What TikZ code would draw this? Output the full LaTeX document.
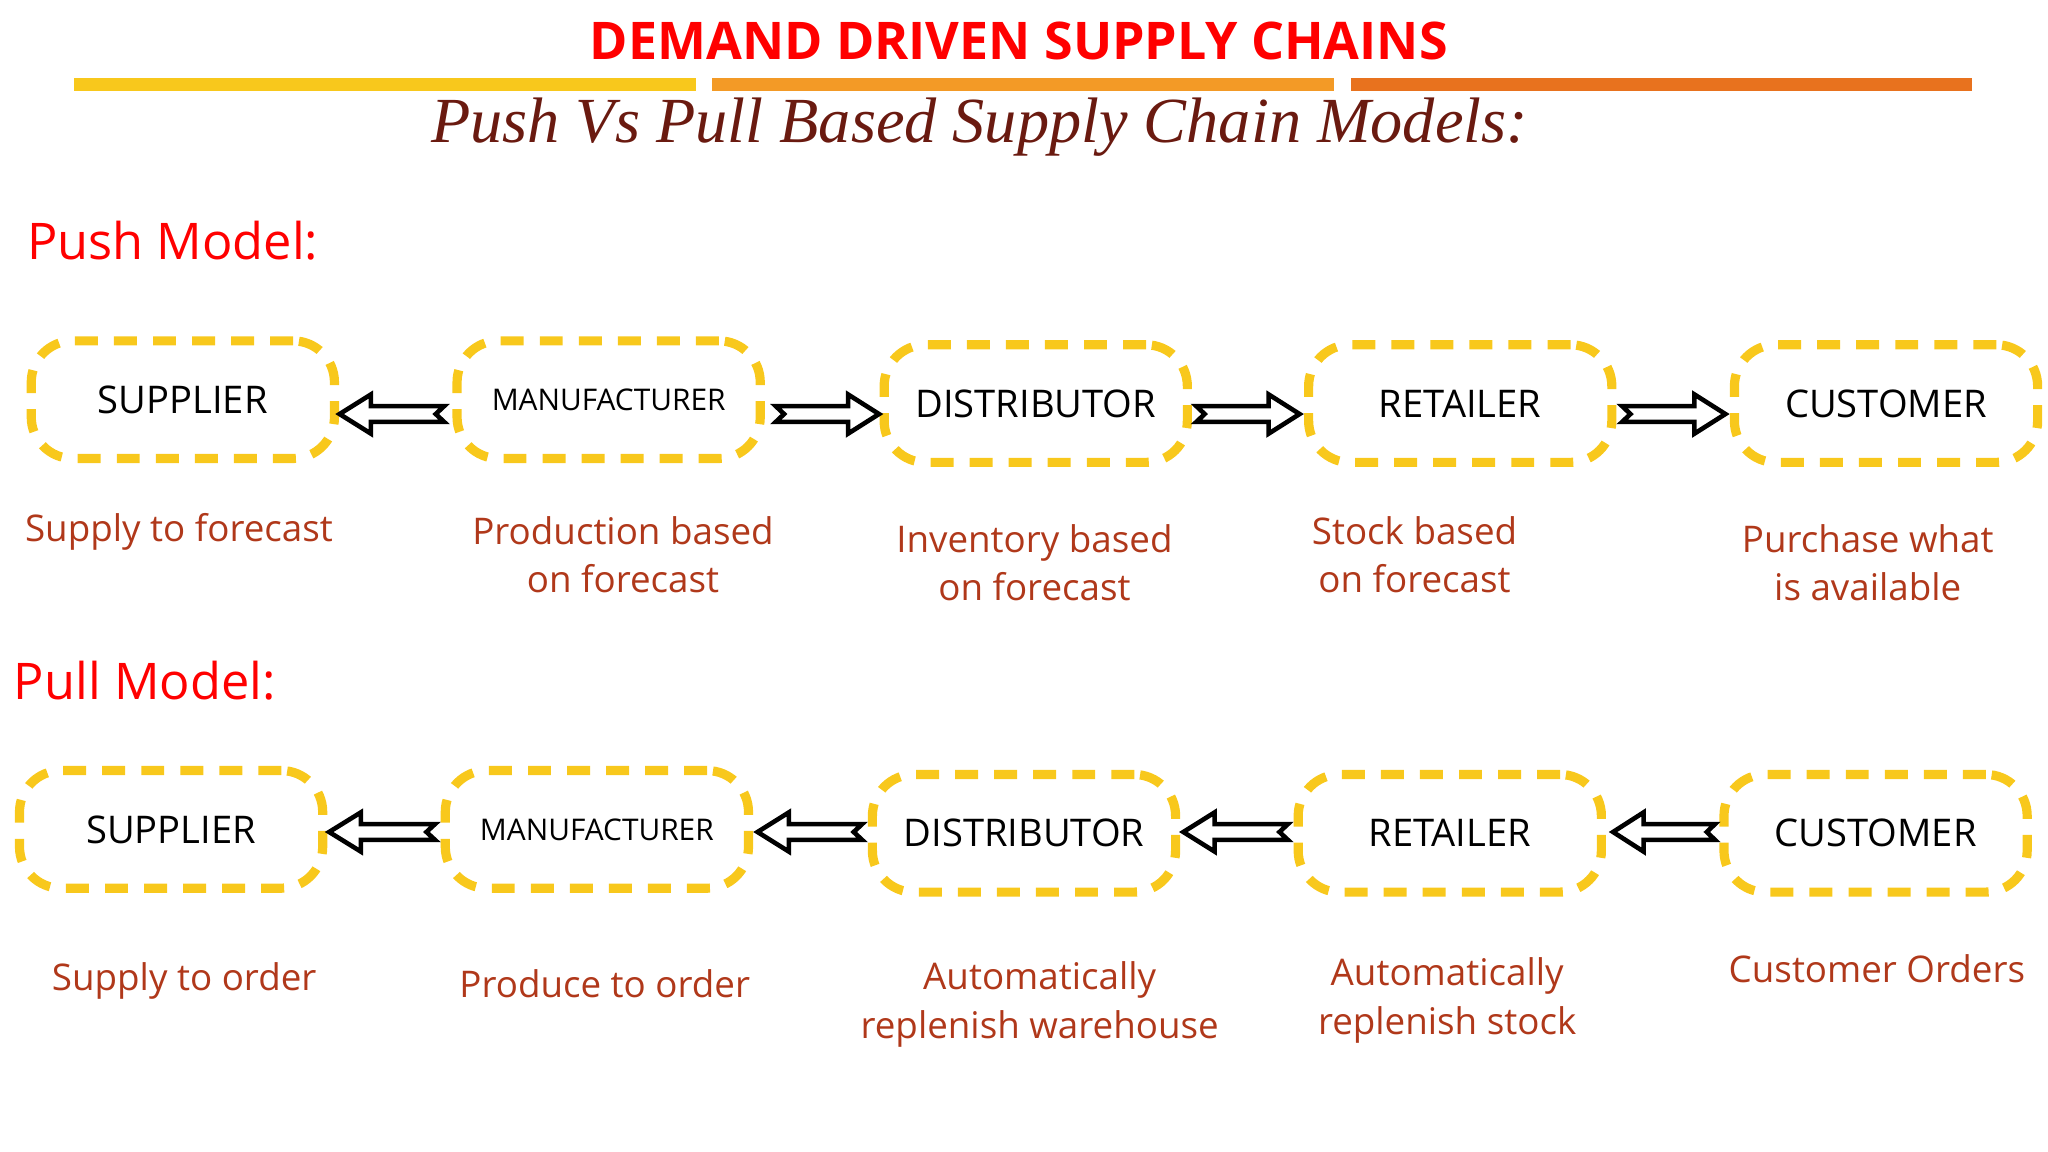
\documentclass[tikz,border=0pt]{standalone}
\usepackage{fontspec}
\setmainfont{Open Sans}
\newfontfamily\titlefont{Liberation Serif}
\usetikzlibrary{positioning,calc}
\definecolor{boxyellow}{HTML}{F8C81C}
\definecolor{desccol}{HTML}{B0381A}
\definecolor{titlebrown}{HTML}{6A1A10}
\definecolor{barA}{HTML}{F8C81C}
\definecolor{barB}{HTML}{F39A26}
\definecolor{barC}{HTML}{E8721E}
\tikzset{
  stage/.style={draw=boxyellow,line width=2pt,dash pattern=on 5pt off 3.5pt,rounded corners=9pt,
    minimum width=2.32cm,minimum height=0.9cm,inner sep=0pt,font=\fontsize{8.3}{10}\selectfont},
  small stage/.style={stage,font=\fontsize{6.5}{8}\selectfont},
  desc/.style={text=desccol,align=center,font=\fontsize{8}{10.5}\selectfont},
  heading/.style={text=red,anchor=west,inner sep=0pt,font=\fontsize{11}{13}\selectfont},
}
% hollow arrow with notched tail, from #1 to #2 (horizontal)
\newcommand*{\flowarrow}[2]{%
  \path (#1) coordinate (fa-s) (#2) coordinate (fa-e);
  \draw[line width=1pt,fill=white,line join=miter]
    let \p1=(fa-s), \p2=(fa-e), \n1={\x2-\x1}, \n2={0.3*\n1} in
    (\x1,\y1+0.06cm) -- (\x2-\n2,\y1+0.06cm) -- (\x2-\n2,\y1+0.15cm) -- (\x2,\y1)
    -- (\x2-\n2,\y1-0.15cm) -- (\x2-\n2,\y1-0.06cm) -- (\x1,\y1-0.06cm)
    -- ($(\x1,\y1)+(0.08*\n1,0)$) -- cycle;}
\begin{document}
\begin{tikzpicture}[x=0.01cm,y=-0.01cm]
\useasboundingbox (0,0) rectangle (1568,882);
% title and bars
\node[text=red,font=\fontsize{11.3}{14}\selectfont\bfseries] (title) at (780,31) {DEMAND DRIVEN SUPPLY CHAINS};
\fill[barA] (57,60) rectangle (533,70);
\fill[barB] (545,60) rectangle (1021,70);
\fill[barC] (1034,60) rectangle (1510,70);
\node[text=titlebrown,font=\fontsize{14}{18}\titlefont\itshape] (subtitle) at (750,97) {Push Vs Pull Based Supply Chain Models:};
% push model
\node[heading] (pushhead) at (20,184) {Push Model:};
\node[stage] (s1) at (140,306) {SUPPLIER};
\node[small stage] (m1) at (466,306) {MANUFACTURER};
\node[stage] (d1) at (793,309) {DISTRIBUTOR};
\node[stage] (r1) at (1118,309) {RETAILER};
\node[stage] (c1) at (1444,309) {CUSTOMER};
\coordinate (a1s) at (340,317); \coordinate (a1e) at (260,317);
\coordinate (a2s) at (594,317); \coordinate (a2e) at (673,317);
\coordinate (a3s) at (916,317); \coordinate (a3e) at (995,317);
\coordinate (a4s) at (1242,317); \coordinate (a4e) at (1321,317);
\flowarrow{a1s}{a1e}
\flowarrow{a2s}{a2e}
\flowarrow{a3s}{a3e}
\flowarrow{a4s}{a4e}
\node[desc] (ds1) at (137,407) {Supply to forecast};
\node[desc] (dm1) at (477,425) {Production based\\on forecast};
\node[desc] (dd1) at (792,431) {Inventory based\\on forecast};
\node[desc] (dr1) at (1083,425) {Stock based\\on forecast};
\node[desc] (dc1) at (1430,431) {Purchase what\\is available};
% pull model
\node[heading] (pullhead) at (10,521) {Pull Model:};
\node[stage] (s2) at (131,635) {SUPPLIER};
\node[small stage] (m2) at (457,635) {MANUFACTURER};
\node[stage] (d2) at (784,638) {DISTRIBUTOR};
\node[stage] (r2) at (1110,638) {RETAILER};
\node[stage] (c2) at (1436,638) {CUSTOMER};
\coordinate (b1s) at (333,637); \coordinate (b1e) at (252,637);
\coordinate (b2s) at (660,637); \coordinate (b2e) at (580,637);
\coordinate (b3s) at (986,637); \coordinate (b3e) at (906,637);
\coordinate (b4s) at (1313,637); \coordinate (b4e) at (1235,637);
\flowarrow{b1s}{b1e}
\flowarrow{b2s}{b2e}
\flowarrow{b3s}{b3e}
\flowarrow{b4s}{b4e}
\node[desc] (ds2) at (141,751) {Supply to order};
\node[desc] (dm2) at (463,753) {Produce to order};
\node[desc] (dd2) at (796,769) {Automatically\\replenish warehouse};
\node[desc] (dr2) at (1108,766) {Automatically\\replenish stock};
\node[desc] (dc2) at (1437,742) {Customer Orders};
\end{tikzpicture}
\end{document}
